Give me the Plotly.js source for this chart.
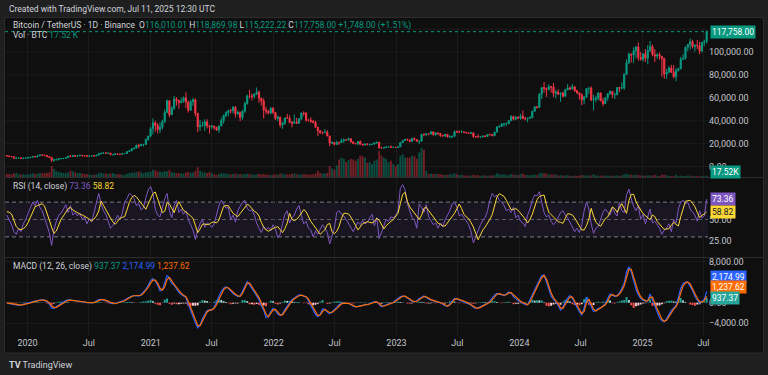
<!DOCTYPE html>
<html><head><meta charset="utf-8">
<script src="https://cdn.plot.ly/plotly-3.0.1.min.js"></script>
<style>html,body{margin:0;padding:0;background:#1f1f1f;}#chart{width:768px;height:375px;}</style>
</head><body><div id="chart"></div>
<script>
// ---- DATA (weekly candles, prices in thousands USDT) ----
const firstWeekCenter = '2019-10-31T12:00:00Z';
const firstOpen = 9.55;
const closeK = [
9.2,8.8,8.5,7.3,7.4,7.5,7.06,7.3,7.38,7.75,
8.18,8.63,8.38,9.35,10.15,9.92,9.7,8.53,8.04,5.36,5.82,5.88,6.86,6.9,7.12,7.7,8.9,8.72,9.68,8.9,9.45,9.75,9.33,9.29,9.0,9.07,9.3,9.16,9.93,11.05,11.56,11.84,11.66,11.69,10.26,10.33,11.08,10.74,10.67,11.37,11.38,13.03,13.8,15.48,15.96,18.7,18.18,19.15,19.27,23.73,26.44,33.0,
38.15,35.8,32.25,34.3,39.25,47.1,57.4,45.15,50.97,59.0,57.5,55.8,57.0,60.0,56.25,49.1,56.65,58.2,46.45,34.7,35.6,35.8,39.0,35.5,34.7,35.3,34.25,31.8,35.4,39.85,44.5,47.05,48.9,48.8,51.8,46.0,47.25,42.85,48.2,54.95,61.55,61.3,61.3,63.3,65.0,59.7,57.3,49.4,48.35,46.7,50.8,47.3,
41.9,43.1,36.3,37.9,42.4,42.25,38.35,37.7,38.8,37.8,41.8,46.8,46.4,40.45,40.4,39.45,38.45,34.3,31.3,29.45,29.45,29.9,26.6,20.55,21.0,19.3,20.85,20.8,22.6,23.3,23.2,24.3,21.5,20.05,19.85,21.8,19.4,18.8,19.4,19.1,19.2,19.55,20.6,21.15,16.33,16.28,16.45,17.1,17.1,16.78,16.84,16.62,
17.13,20.87,22.7,23.75,23.3,21.85,24.6,23.6,22.0,22.1,28.0,27.95,28.45,28.3,30.3,27.6,29.25,28.85,26.9,26.75,28.1,25.85,25.9,26.35,30.45,30.15,30.15,30.2,29.85,29.3,29.05,29.3,26.1,25.95,25.85,26.05,26.55,26.25,27.95,27.9,26.85,29.95,34.5,35.0,37.05,37.35,37.45,39.95,43.8,41.35,43.0,42.3,
43.95,41.75,41.6,42.05,42.6,48.3,52.15,51.75,63.15,68.95,68.4,67.2,69.65,69.35,63.9,64.95,63.1,64.0,61.45,66.95,68.55,67.75,69.65,66.2,64.25,62.7,58.2,60.8,68.15,68.25,58.1,58.7,59.45,64.2,57.3,54.85,59.95,63.55,65.6,62.8,62.85,69.0,68.35,68.8,80.35,90.6,98.0,97.25,101.15,104.45,95.2,93.7,98.35,
94.5,101.3,104.7,97.7,96.45,97.6,96.3,94.25,80.7,82.6,86.1,82.35,78.35,83.75,85.25,93.75,94.3,104.1,106.45,109.0,104.6,105.7,105.6,100.95,108.35,109.2,117.758];
const highK = [
9.95,9.5,9.1,8.55,7.9,7.75,7.68,7.52,7.7,7.8,
8.47,9.0,8.75,9.57,10.17,10.5,10.28,9.95,9.19,8.18,6.9,6.97,7.2,7.47,7.3,7.77,9.47,10.07,9.95,9.9,9.75,10.43,9.99,9.55,9.8,9.3,9.47,9.4,10.03,12.0,12.03,12.1,12.48,11.8,12.09,10.6,11.18,11.1,10.96,11.5,11.72,13.35,14.1,15.96,16.5,18.96,19.42,19.92,19.4,24.3,27.0,34.78,
42.0,40.1,37.85,38.5,40.95,49.7,58.35,57.5,52.64,61.8,60.6,58.5,60.2,61.2,64.85,57.5,58.4,59.6,59.6,46.7,40.5,39.5,41.3,41.3,35.8,36.6,35.6,34.7,35.6,42.6,45.3,48.15,49.5,50.5,52.9,52.9,48.85,48.0,49.2,56.6,62.9,67.0,63.7,63.8,69.0,66.3,59.9,59.2,51.95,49.5,52.1,52.0,
47.57,44.45,43.5,38.9,42.65,45.85,44.75,39.8,45.4,42.6,42.3,47.0,48.2,47.5,41.6,42.95,40.8,40.0,34.5,31.5,30.65,32.4,31.75,26.9,21.9,21.5,22.55,21.65,24.3,24.65,23.7,25.2,24.45,21.9,20.6,21.9,22.8,19.7,20.35,20.5,19.95,19.7,21.1,21.5,21.45,17.2,16.8,17.4,17.45,18.4,17.05,16.95,
17.2,21.45,23.3,23.85,24.25,23.45,25.25,25.1,23.9,22.6,28.5,28.9,29.15,28.8,31.0,30.5,30.0,29.85,28.9,27.65,28.25,28.45,27.2,26.8,31.45,31.45,31.4,31.8,30.4,29.95,29.75,30.25,29.7,26.8,28.15,26.4,26.85,27.4,28.05,28.6,28.0,30.4,35.3,35.95,37.95,38.0,38.4,40.0,44.7,44.0,44.3,43.8,
45.9,49.0,43.6,42.85,43.9,48.6,52.85,52.5,64.0,69.2,73.75,68.9,71.8,70.35,72.8,66.9,67.25,64.75,65.5,67.7,71.95,70.0,71.95,70.2,66.95,64.5,63.8,61.4,68.4,69.4,70.05,62.75,61.8,65.0,64.5,59.8,60.65,64.15,66.5,65.6,64.5,69.4,69.5,73.6,81.5,93.45,99.6,98.9,104.1,105.25,108.35,99.95,99.1,
102.7,106.0,109.6,106.45,102.5,98.8,99.5,96.5,95.0,85.3,87.5,88.8,88.5,86.1,86.5,95.75,97.9,104.9,107.1,111.95,110.75,106.8,110.55,108.95,108.55,110.55,118.87];
const lowK = [
8.9,8.7,8.35,6.8,6.5,7.15,7.0,6.43,7.15,6.87,
7.73,8.1,8.27,8.35,9.15,9.7,9.3,8.4,8.0,3.78,4.45,5.68,5.85,6.75,6.47,6.8,7.65,8.1,8.2,8.8,8.63,9.25,9.07,8.9,8.84,8.88,9.05,9.0,9.1,9.9,10.95,11.15,11.37,11.1,9.9,9.85,10.2,10.14,10.37,10.53,11.2,11.36,12.9,13.2,14.8,15.8,16.2,17.6,17.57,19.0,22.35,25.9,
28.1,30.4,28.8,29.24,32.3,38.0,47.0,43.0,45.0,49.3,53.3,50.4,55.2,55.6,51.0,47.0,48.8,53.0,43.8,30.0,31.1,34.7,31.0,33.3,28.8,32.7,32.05,31.0,29.3,35.2,37.5,42.8,43.9,46.4,46.5,42.8,44.8,39.6,40.75,46.9,53.9,59.5,57.8,59.4,62.3,55.6,53.25,42.0,45.7,45.5,45.5,45.7,
40.5,39.6,34.0,32.9,36.25,41.7,37.8,34.3,37.4,37.15,37.55,40.45,44.2,39.2,39.2,38.2,37.7,33.7,26.7,28.6,28.0,29.2,26.55,17.6,19.6,18.6,19.05,18.9,20.75,20.7,22.4,22.7,20.75,19.55,19.55,18.5,19.3,18.15,18.5,19.05,18.2,18.9,19.2,20.05,15.6,16.0,15.5,16.1,16.75,16.55,16.25,16.3,
16.6,17.1,20.4,22.3,22.5,21.4,21.55,22.8,21.95,19.55,21.8,26.6,26.5,27.2,28.2,27.15,26.95,27.65,25.8,26.1,25.85,25.35,25.35,24.8,26.25,29.5,29.7,29.9,29.5,28.85,28.6,28.7,25.15,25.35,25.4,24.9,25.15,26.0,26.0,27.2,26.55,26.7,29.9,33.95,34.5,34.8,35.6,36.85,39.95,40.2,40.6,41.4,
40.75,41.5,40.25,38.55,41.85,42.25,47.7,50.55,50.9,59.0,64.55,60.75,66.55,64.5,60.65,59.6,62.4,56.55,60.2,60.75,66.6,66.6,67.6,65.05,63.4,58.4,53.5,54.25,59.85,63.5,57.1,49.1,56.1,57.85,57.2,52.55,54.6,57.5,62.65,59.8,58.9,62.0,65.05,67.45,66.85,80.25,89.4,90.8,90.5,94.2,92.2,92.5,91.55,
91.2,89.25,100.1,96.2,91.25,94.1,93.4,78.25,76.6,76.55,81.2,81.6,77.1,74.5,83.0,85.1,92.8,93.4,100.7,102.1,103.05,100.35,102.65,98.2,99.6,105.1,107.45];
// volume, thousand BTC (average per day of each week)
const volumeK = [
50,45,42,55,62,42,40,45,38,40,
50,58,48,52,62,58,60,65,70,170,125,90,75,70,62,58,72,95,88,70,60,65,55,48,42,40,32,33,40,60,65,55,55,50,55,60,45,45,40,35,35,50,60,70,65,75,85,70,55,70,75,80,
110,105,85,80,75,90,85,110,70,65,60,60,55,55,70,80,65,70,95,150,95,75,70,60,75,60,40,35,45,60,55,50,45,40,45,55,40,45,40,45,50,50,40,35,40,45,40,45,40,35,30,30,
40,35,50,55,40,40,40,50,55,40,35,40,45,40,35,35,40,55,95,60,55,55,65,170,130,110,180,270,300,280,230,260,280,270,250,280,330,320,300,220,230,200,250,270,400,330,300,280,230,250,200,170,
200,330,350,300,300,300,330,320,280,380,450,420,90,45,50,50,50,45,45,35,30,35,45,40,55,40,30,35,25,22,22,20,35,25,30,18,25,22,20,25,22,30,55,40,40,38,30,28,45,40,35,30,
45,55,30,35,25,30,40,28,55,65,55,55,40,35,40,35,22,28,20,25,30,18,18,20,15,20,30,25,25,22,25,45,22,20,20,20,22,22,18,22,18,25,18,25,40,50,35,35,30,30,35,22,18,
20,25,25,22,30,18,15,35,35,25,18,15,15,30,15,22,15,18,20,22,15,12,14,12,14,10,18];
const rsi = [
55,50,44,36,33,40,36,45,50,57, 63,70,66,72,64,60,52,42,35,20, 38,48,55,57,62,67,58,66,55,58, 54,57,50,53,45,51,47,58,70,80,
68,60,56,49,40,43,48,55,50,57, 70,74,80,78,74,66,68,61,64,75, 84,88,80,62,55,53,64,74,80,60, 52,66,72,58,62,56,60,50,44,38,
27,38,45,50,41,46,44,41,45,55, 66,72,68,63,64,50,55,47,60,66, 70,72,63,60,61,55,46,40,35,42, 38,41,37,44,39,29,33,45,56,60,
46,52,55,62,66,55,45,48,40,38, 30,37,33,39,44,40,35,22,32,40, 58,60,56,54,50,45,40,36,42,47, 44,49,45,47,52,56,43,52,28,36,
44,50,48,53,52,55,60,86,90,84, 68,60,52,49,40,68,64,58,67,53, 48,44,46,40,46,42,50,55,60,68, 70,64,54,56,52,48,44,36,23,30,
38,44,49,52,60,72,80,76,78,72, 70,66,60,62,58,64,52,55,48,46, 42,55,62,72,78,77,82,68,58,53, 55,48,44,47,52,58,60,55,52,47,
42,36,40,35,44,60,70,62,45,34, 40,42,50,58,62,59,55,64,57,54, 70,60,58,78,85,74,65,60,66,50, 56,45,55,62,46,48,44,40,33,38,
40,45,36,50,46,62,70,72,68,70, 62,58,55,48,60,52,54,73.36];
const rsiMA = [
59.0,58.3,56.3,49.4,41.8,39.1,38.3,39.5,41.8,46.4, 52.1,59.0,64.8,65.9,66.7,68.2,65.2,58.6,49.8,41.0,
34.1,36.8,42.9,50.2,54.0,58.6,62.5,64.0,60.9,59.4, 57.5,56.3,55.2,54.0,52.1,50.2,48.3,50.6,54.0,59.8,
71.3,66.3,60.9,56.3,51.7,47.1,44.5,47.9,51.4,52.5, 53.3,61.3,69.7,75.1,77.8,75.9,72.4,69.0,65.2,61.7,
67.8,74.3,79.7,81.6,73.6,63.2,57.9,59.4,69.4,67.8, 62.1,57.9,65.5,70.5,65.2,60.5,58.6,56.7,54.0,51.4,
42.9,34.9,39.1,44.5,44.8,44.1,44.8,46.8,47.1,46.0, 49.4,58.3,65.2,65.9,65.9,61.3,57.1,55.2,53.3,56.7,
60.2,64.0,67.4,65.9,62.5,59.4,57.9,54.0,46.8,41.0, 38.3,36.4,38.3,39.9,41.0,41.8,38.3,34.9,39.5,46.0,
57.1,50.2,48.7,50.2,53.3,57.1,61.3,59.0,52.9,47.9, 44.1,40.2,35.7,33.0,35.7,38.3,44.1,45.6,36.0,33.7,
36.4,42.2,51.4,57.1,57.1,56.3,52.9,48.7,43.3,38.0, 41.4,45.2,46.4,47.5,46.8,46.0,47.9,51.4,49.4,43.3,
39.1,42.9,46.0,47.9,49.8,53.7,57.1,68.2,78.9,81.2, 70.9,64.4,60.9,57.1,53.7,50.2,54.8,62.8,64.0,60.2,
56.7,52.9,49.4,45.6,44.5,42.5,42.5,46.0,49.8,54.0, 57.1,62.5,67.8,62.5,56.0,52.9,51.0,46.4,41.4,34.1,
26.8,32.2,38.0,41.4,45.2,50.2,55.6,65.2,75.9,79.7, 78.5,76.6,72.0,66.7,61.3,61.7,62.5,60.5,57.5,54.4,
50.6,46.0,50.2,56.0,63.6,72.8,76.6,77.8,78.2,67.1, 58.3,55.6,52.5,49.8,47.5,46.8,45.6,51.4,56.7,56.3,
55.2,51.7,47.1,42.5,38.0,38.0,42.9,50.6,62.8,54.0, 46.8,44.1,42.2,46.8,51.0,52.9,57.9,64.4,62.5,58.3,
63.6,68.2,62.8,57.1,71.7,78.9,78.9,70.5,65.5,61.3, 56.7,54.4,51.7,49.8,55.2,53.3,47.9,44.1,41.4,38.7,
38.7,39.5,43.3,46.8,44.5,42.5,53.3,63.2,70.9,71.7, 72.0,68.6,64.8,58.3,52.1,54.8,56.3,58.82];
const macd = [
-100,-200,-250,-400,-550,-500,-400,-300,-250,-150, 50,200,350,450,500,550,450,200,-250,-1000,
-1100,-800,-450,-100,150,400,550,500,450,420, 350,300,200,100,30,-40,-60,50,350,600,
650,550,400,200,-100,-200,-150,0,100,250, 500,800,1100,1300,1400,1350,1300,1600,2100,2600,
3400,4300,4700,4200,3400,2300,2500,3700,5300,4700, 3700,3400,2700,2000,1600,1300,1000,-300,-1600,-2800,
-3900,-4900,-4300,-3100,-2200,-1500,-1400,-1400,-900,100, 1200,2200,2800,3100,2800,2200,1800,1500,1200,1300,
2300,3400,4100,3500,2800,2000,1500,600,-600,-1500, -2900,-2700,-1700,-1100,-1500,-2200,-2500,-2200,-1300,-600,
100,600,900,1200,1500,1450,1200,1100,400,-600, -1500,-2300,-2700,-2200,-1200,-1300,-1800,-2100,-1800,-1400,
-900,-400,-100,-50,-100,-150,-400,-700,-800,-700, -500,-450,-400,-350,-200,0,200,150,-400,-800,
-600,-350,-200,-100,100,500,900,1200,1300,1250, 900,500,250,200,350,800,1100,1300,1000,700,
500,400,200,50,0,-300,-600,-700,-200,500, 850,750,550,500,300,0,-250,-450,-900,-1100,
-1000,-800,-500,-250,-100,300,900,1500,1800,1700, 1500,1400,1700,2100,1900,1200,800,400,200,-100,
-400,-400,600,1700,2500,3500,4400,5300,5400,4000, 2500,1300,600,200,-600,-1400,-900,200,900,1400,
800,-100,-800,-1800,-2400,-1000,1100,300,-800,-1700, -1500,-1100,-1000,-600,-200,800,1700,1500,1200,1400,
1900,2800,3800,6000,7000,6000,4000,2600,1500,800, 500,300,400,1700,500,-700,-1800,-2900,-3500,-3700,
-3100,-2300,-1500,-1000,-600,1000,2800,3700,4000,4000, 3300,2400,1200,500,-100,300,600,2174.99];
const signal = [
-50,-120,-190,-280,-420,-480,-450,-370,-300,-200, -50,100,250,380,460,520,500,330,0,-600,
-950,-900,-620,-280,20,270,460,510,470,430, 380,320,240,140,60,0,-40,0,200,450,
600,580,470,300,50,-130,-160,-60,60,180, 380,650,950,1200,1350,1370,1320,1450,1850,2350,
3000,3800,4400,4400,3800,2800,2450,3100,4500,4900, 4100,3550,3000,2300,1800,1450,1150,300,-900,-2200,
-3300,-4400,-4500,-3600,-2600,-1800,-1450,-1400,-1100,-400, 600,1700,2500,2950,2900,2500,2000,1650,1350,1250,
1800,2900,3800,3800,3100,2400,1750,1000,0,-1000, -2200,-2750,-2100,-1400,-1300,-1850,-2350,-2350,-1700,-950,
-250,350,750,1050,1350,1450,1300,1150,700,-100, -1000,-1900,-2500,-2400,-1700,-1300,-1600,-1950,-1900,-1600,
-1150,-650,-250,-80,-80,-130,-300,-550,-750,-750, -600,-480,-420,-370,-270,-100,100,170,-150,-600,
-680,-450,-280,-150,0,300,700,1050,1250,1270, 1050,700,380,220,280,600,950,1200,1150,850,
600,450,300,120,20,-150,-450,-650,-450,150, 650,800,650,520,400,150,-120,-350,-680,-1000,
-1050,-900,-650,-380,-170,100,600,1200,1650,1750, 1600,1450,1550,1900,1950,1500,1000,600,300,50,
-250,-400,100,1150,2100,3000,3950,4850,5300,4600, 3200,1900,950,400,-200,-1000,-1100,-350,550,1150,
1100,350,-450,-1300,-2100,-1700,0,700,-250,-1250, -1600,-1300,-1050,-800,-400,300,1250,1600,1350,1300,
1650,2350,3300,4900,6500,6500,5000,3300,2050,1150, 650,400,350,1050,1100,-100,-1250,-2350,-3200,-3600,
-3400,-2700,-1900,-1250,-800,200,1900,3250,3850,4000, 3650,2850,1800,850,200,100,400,1237.62];
const xTickVals = ['2020-01-01','2020-07-01','2021-01-01','2021-07-01','2022-01-01','2022-07-01','2023-01-01','2023-07-01','2024-01-01','2024-07-01','2025-01-01','2025-07-01'];
const xTickText = ['2020','Jul','2021','Jul','2022','Jul','2023','Jul','2024','Jul','2025','Jul'];
// tick labels that are not hidden behind the value boxes
const priceTickVals = [0,20,40,60,80,100];
const priceTickText = ['0.00','20,000.00','40,000.00','60,000.00','80,000.00','100,000.00'];
const priceGridVals = [0,20,40,60,80,100,120];
const rsiTickVals = [25,50];
const rsiTickText = ['25.00','50.00'];
const macdTickVals = [-4000,0,8000];
const macdTickText = ['\u22124,000.00','0.00','8,000.00'];
const macdGridVals = [-4000,0,4000,8000];

// ---- BUILD ----
const t0 = Date.parse(firstWeekCenter);
const dates = closeK.map((_, i) => new Date(t0 + i * 7 * 864e5).toISOString().slice(0, 19));
const openK = closeK.map((c, i) => i === 0 ? firstOpen : closeK[i - 1]);
const volColors = closeK.map((c, i) => c >= openK[i] ? 'rgba(8,153,129,0.45)' : 'rgba(242,54,69,0.45)');
const hist = macd.map((m, i) => m - signal[i]);
const histColors = hist.map((h, i) => {
  const p = i > 0 ? hist[i - 1] : 0;
  if (h >= 0) return h >= p ? '#26A69A' : '#B2DFDB';
  return h < p ? '#FF5252' : '#FFCDD2';
});

const W = 768, H = 375;
const px = v => v / W, py = v => 1 - v / H;
const FONT = 'Roboto, "Noto Sans", sans-serif';
const tickFont = {family: FONT, size: 9, color: '#c2c4cb'};
const grid = '#1b1b1b';
const wk = 7 * 864e5;

const traces = [
  {type: 'bar', x: dates, y: volumeK, yaxis: 'y2', marker: {color: volColors, line: {width: 0}}, width: wk * 0.8, hoverinfo: 'skip'},
  {type: 'candlestick', x: dates, open: openK, high: highK, low: lowK, close: closeK, yaxis: 'y',
   increasing: {line: {color: '#089981', width: 1}, fillcolor: '#089981'},
   decreasing: {line: {color: '#F23645', width: 1}, fillcolor: '#F23645'}, whiskerwidth: 0, hoverinfo: 'skip'},
  {type: 'scatter', mode: 'lines', x: dates, y: rsi, yaxis: 'y3', line: {color: '#7E57C2', width: 1}, hoverinfo: 'skip'},
  {type: 'scatter', mode: 'lines', x: dates, y: rsiMA, yaxis: 'y3', line: {color: '#FDD835', width: 1}, hoverinfo: 'skip'},
  {type: 'bar', x: dates, y: hist, yaxis: 'y4', marker: {color: histColors, line: {width: 0}}, width: wk * 0.8, hoverinfo: 'skip'},
  {type: 'scatter', mode: 'lines', x: dates, y: macd, yaxis: 'y4', line: {color: '#2962FF', width: 1.2}, hoverinfo: 'skip'},
  {type: 'scatter', mode: 'lines', x: dates, y: signal, yaxis: 'y4', line: {color: '#FF6D00', width: 1.2}, hoverinfo: 'skip'}
];

const lastPrice = closeK[closeK.length - 1];
const lastRsi = rsi[rsi.length - 1], lastRsiMA = rsiMA[rsiMA.length - 1];
const G = '#089981';
const ann = (o) => Object.assign({showarrow: false, xanchor: 'left', yanchor: 'middle', font: {family: FONT, size: 8.5, color: '#d1d4dc'}}, o);
const box = (text, yref, y, bg, fg) => ann({text, xref: 'paper', x: px(710), yref, y, bgcolor: bg, borderpad: 1, font: {family: FONT, size: 8.5, color: fg}});
const hline = (yref, y, color, dash) => ({type: 'line', xref: 'paper', yref, x0: px(5), x1: px(708), y0: y, y1: y, line: {color, width: 1, dash}, layer: 'below'});

const layout = {
  width: W, height: H, margin: {l: 0, r: 0, t: 0, b: 0},
  paper_bgcolor: '#1f1f1f', plot_bgcolor: '#0f0f0f', showlegend: false, barmode: 'overlay',
  xaxis: {type: 'date', domain: [px(5), px(708)], range: ['2019-10-26', '2025-07-14 12:00'], anchor: 'y4',
    tickvals: xTickVals, ticktext: xTickText, tickfont: tickFont, showgrid: true, gridcolor: grid,
    zeroline: false, showline: false, ticks: '', rangeslider: {visible: false}, fixedrange: true},
  yaxis: {domain: [py(177), py(28)], range: [-9.17, 120.96], side: 'right', anchor: 'x',
    tickvals: priceTickVals, ticktext: priceTickText, tickfont: tickFont, showgrid: false,
    zeroline: false, ticks: '', showline: false},
  yaxis2: {overlaying: 'y', anchor: 'x', side: 'right', range: [0, 2300], visible: false, showgrid: false},
  yaxis3: {domain: [py(257), py(178)], range: [6.9, 97.7], side: 'right', anchor: 'x',
    tickvals: rsiTickVals, ticktext: rsiTickText, tickfont: tickFont, showgrid: false, zeroline: false, ticks: ''},
  yaxis4: {domain: [py(336), py(258)], range: [-6466, 8680], side: 'right', anchor: 'x',
    tickvals: macdTickVals, ticktext: macdTickText, tickfont: tickFont, showgrid: false, zeroline: false, ticks: ''},
  shapes: [
    {type: 'rect', xref: 'paper', yref: 'paper', x0: px(4.5), x1: px(763.5), y0: py(353), y1: py(17.5), fillcolor: '#0f0f0f', line: {color: '#2c2c2c', width: 1}, layer: 'below'},
    ...priceGridVals.map(v => hline('y', v, grid, 'solid')),
    ...macdGridVals.map(v => hline('y4', v, grid, 'solid')),
    {type: 'rect', xref: 'paper', yref: 'y3', x0: px(5), x1: px(708), y0: 30, y1: 70, fillcolor: 'rgba(126,87,194,0.1)', line: {width: 0}, layer: 'below'},
    hline('y3', 70, '#787B86', '4px,3px'),
    hline('y3', 50, 'rgba(120,123,134,0.7)', '4px,3px'),
    hline('y3', 30, '#787B86', '4px,3px'),
    {type: 'line', xref: 'paper', yref: 'y', x0: px(5), x1: px(708), y0: lastPrice, y1: lastPrice, line: {color: G, width: 1, dash: 'dot'}},
    {type: 'line', xref: 'paper', yref: 'paper', x0: px(4.5), x1: px(763.5), y0: py(177.5), y1: py(177.5), line: {color: '#2c2c2c', width: 1}},
    {type: 'line', xref: 'paper', yref: 'paper', x0: px(4.5), x1: px(763.5), y0: py(257.5), y1: py(257.5), line: {color: '#2c2c2c', width: 1}}
  ],
  annotations: [
    ann({text: 'Created with TradingView.com, Jul 11, 2025 12:30 UTC', xref: 'paper', yref: 'paper', x: px(6.5), y: py(9.5)}),
    ann({text: 'Bitcoin / TetherUS · 1D · Binance  O<span style="color:#089981">116,010.01</span> H<span style="color:#089981">118,869.98</span> L<span style="color:#089981">115,222.22</span> C<span style="color:#089981">117,758.00</span> <span style="color:#089981">+1,748.00 (+1.51%)</span>', xref: 'paper', yref: 'paper', x: px(10.5), y: py(25.7)}),
    ann({text: 'Vol · BTC <span style="color:#089981">17.52 K</span>', xref: 'paper', yref: 'paper', x: px(10.5), y: py(34.8)}),
    ann({text: 'RSI (14, close) <span style="color:#7E57C2">73.36</span> <span style="color:#FDD835">58.82</span>', xref: 'paper', yref: 'paper', x: px(10.5), y: py(186)}),
    ann({text: 'MACD (12, 26, close) <span style="color:#089981">937.37</span> <span style="color:#2962FF">2,174.99</span> <span style="color:#FF6D00">1,237.62</span>', xref: 'paper', yref: 'paper', x: px(10.5), y: py(266)}),
    ann({text: '<b>TV</b> TradingView', xref: 'paper', yref: 'paper', x: px(6.5), y: py(365), font: {family: FONT, size: 9, color: '#d1d4dc'}}),
    box('117,758.00', 'y', lastPrice, G, '#ffffff'),
    box('17.52K', 'paper', py(171.5), G, '#ffffff'),
    box('73.36', 'y3', lastRsi, '#7E57C2', '#ffffff'),
    box('58.82', 'y3', lastRsiMA, '#FDD835', '#131722'),
    box('2,174.99', 'paper', py(276.8), '#2962FF', '#ffffff'),
    box('1,237.62', 'paper', py(287.3), '#FF6D00', '#ffffff'),
    box('937.37', 'paper', py(297.8), '#26A69A', '#ffffff')
  ]
};

Plotly.newPlot('chart', traces, layout, {staticPlot: true, displayModeBar: false});
</script>
</body></html>
